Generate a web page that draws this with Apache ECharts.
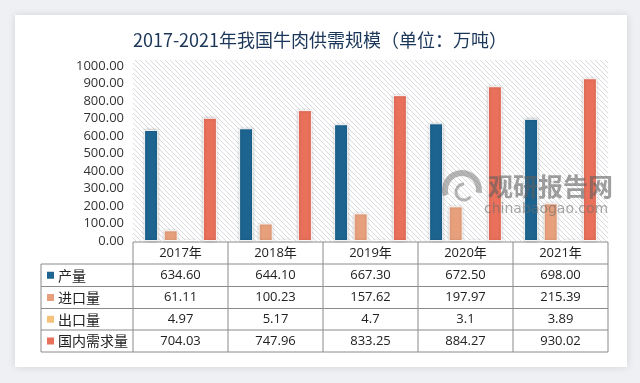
<!DOCTYPE html>
<html><head><meta charset="utf-8">
<script src="https://cdn.jsdelivr.net/npm/echarts@6/dist/echarts.min.js"></script>
<style>html,body{margin:0;padding:0;background:#eef0f3;}#c{width:640px;height:383px;}</style>
</head><body><div id="c"></div>
<script>
const titleText = '2017-2021年我国牛肉供需规模（单位：万吨）';
const years = ['2017年','2018年','2019年','2020年','2021年'];
const seriesNames = ['产量','进口量','出口量','国内需求量'];
const production = [634.60, 644.10, 667.30, 672.50, 698.00];
const imports = [61.11, 100.23, 157.62, 197.97, 215.39];
const exportsV = [4.97, 5.17, 4.7, 3.1, 3.89];
const demand = [704.03, 747.96, 833.25, 884.27, 930.02];
const tableText = [
  ['634.60','644.10','667.30','672.50','698.00'],
  ['61.11','100.23','157.62','197.97','215.39'],
  ['4.97','5.17','4.7','3.1','3.89'],
  ['704.03','747.96','833.25','884.27','930.02']
];
const yTicks = {min:0, max:1000, interval:100};
const colors = ['#1d6490','#e8a07c','#f6c27a','#e9705b'];

const G = {left:133, right:608, top:66, bottom:241};
const rowY = [242, 264, 286.5, 308.5, 330, 352];
const legendLeft = 41;

// hatch pattern
const pc = document.createElement('canvas');
pc.width = 5; pc.height = 5;
const pctx = pc.getContext('2d');
pctx.fillStyle = '#ffffff'; pctx.fillRect(0,0,5,5);
pctx.strokeStyle = '#d9dbdf'; pctx.lineWidth = 1;
pctx.beginPath(); pctx.moveTo(-1,-1); pctx.lineTo(6,6); pctx.stroke();
pctx.beginPath(); pctx.moveTo(-1,4); pctx.lineTo(1,6); pctx.stroke();
pctx.beginPath(); pctx.moveTo(4,-1); pctx.lineTo(6,1); pctx.stroke();
const hatch = {image:pc, repeat:'repeat'};

const chart = echarts.init(document.getElementById('c'), null, {renderer:'canvas'});

const graphics = [];
graphics.push({type:'rect', z:-10, shape:{x:15,y:15,width:612,height:352},
  style:{fill:'#ffffff', shadowBlur:8, shadowColor:'rgba(0,0,0,0.12)'}});
graphics.push({type:'rect', z:-5, shape:{x:G.left,y:60,width:G.right-G.left,height:G.top-60},
  style:{fill:hatch}});
const colW = (G.right-G.left)/years.length;
const lineStyle = {stroke:'#8a8a8a', lineWidth:1};
function line(x1,y1,x2,y2){graphics.push({type:'line', z:5, shape:{x1,y1,x2,y2}, style:lineStyle});}
line(G.left, rowY[0], G.right, rowY[0]);
for (let i=1;i<rowY.length;i++) line(legendLeft, rowY[i], G.right, rowY[i]);
line(legendLeft, rowY[1], legendLeft, rowY[5]);
for (let j=0;j<=years.length;j++) line(G.left+j*colW, rowY[0], G.left+j*colW, rowY[5]);
const numFont = '13px "Open Sans","Noto Sans CJK SC"';
years.forEach((y,j)=>{
  graphics.push({type:'text', z:6, x:G.left+(j+0.5)*colW, y:(rowY[0]+rowY[1])/2,
    style:{text:y, fill:'#222', font:numFont, textAlign:'center', textVerticalAlign:'middle'}});
});
seriesNames.forEach((n,i)=>{
  const cy = (rowY[i+1]+rowY[i+2])/2;
  graphics.push({type:'rect', z:6, shape:{x:legendLeft+6,y:cy-3.5,width:7,height:7}, style:{fill:colors[i]}});
  graphics.push({type:'text', z:6, x:legendLeft+17, y:cy,
    style:{text:n, fill:'#222', font:'14px "Noto Sans CJK SC"', textAlign:'left', textVerticalAlign:'middle'}});
  tableText[i].forEach((v,j)=>{
    graphics.push({type:'text', z:6, x:G.left+(j+0.5)*colW, y:cy,
      style:{text:v, fill:'#222', font:numFont, textAlign:'center', textVerticalAlign:'middle'}});
  });
});
// watermark
graphics.push({type:'arc', z:20, shape:{cx:462,cy:190,r:17,startAngle:Math.PI*0.9,endAngle:Math.PI*2.05},
  style:{stroke:'rgba(120,120,120,0.55)', lineWidth:6, fill:null}});
graphics.push({type:'arc', z:20, shape:{cx:464,cy:192,r:8,startAngle:Math.PI*0.2,endAngle:Math.PI*1.5},
  style:{stroke:'rgba(120,120,120,0.55)', lineWidth:3, fill:null}});
graphics.push({type:'text', z:20, x:488, y:186,
  style:{text:'观研报告网', fill:'rgba(95,95,95,0.6)', font:'bold 25px "Noto Sans CJK SC"', textAlign:'left', textVerticalAlign:'middle'}});
graphics.push({type:'text', z:20, x:484, y:209,
  style:{text:'chinabaogao.com', fill:'rgba(110,110,110,0.6)', font:'14px "DejaVu Sans"', textAlign:'left', textVerticalAlign:'middle'}});

const barStyle = (c)=>({color:c, borderColor:'rgba(255,255,255,0.9)', borderWidth:1, shadowBlur:3, shadowColor:'rgba(0,0,0,0.25)'});
const dataSets = [production, imports, exportsV, demand];

chart.setOption({
  animation:false,
  title:{text:titleText, left:'center', top:26,
    textStyle:{color:'#1b3658', fontSize:18, fontWeight:'normal', fontFamily:'"Noto Sans CJK SC"'}},
  grid:{show:true, left:G.left, right:640-G.right, top:G.top, bottom:383-G.bottom, borderWidth:0,
    backgroundColor:hatch},
  xAxis:{type:'category', data:years, axisLine:{show:false}, axisTick:{show:false}, axisLabel:{show:false}},
  yAxis:{type:'value', min:yTicks.min, max:yTicks.max, interval:yTicks.interval,
    axisLine:{show:false}, axisTick:{show:false}, splitLine:{show:false},
    axisLabel:{formatter:v=>v.toFixed(2), color:'#333', fontSize:13, fontFamily:'"Open Sans"', margin:9}},
  graphic:graphics,
  series: seriesNames.map((n,i)=>({name:n, type:'bar', data:dataSets[i], barWidth:14, barGap:'40%', itemStyle:barStyle(colors[i])}))
});
</script></body></html>
